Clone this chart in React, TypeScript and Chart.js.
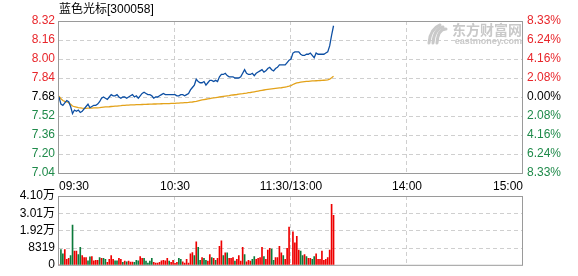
import React, { useEffect, useRef } from 'react';
import { Chart, registerables } from 'chart.js';
Chart.register(...registerables);

const title = '蓝色光标[300058]';
const watermarkCn = '东方财富网';
const watermarkEn = 'eastmoney.com';
const timeTicks = [0, 60, 120, 180, 240];
const timeLabels = ['09:30', '10:30', '11:30/13:00', '14:00', '15:00'];
const preClose = 7.68;
const priceTicks = [7.04, 7.2, 7.36, 7.52, 7.68, 7.84, 8.0, 8.16, 8.32];
const pctLabels = ['8.33%', '6.24%', '4.16%', '2.08%', '0.00%', '2.08%', '4.16%', '6.24%', '8.33%'];
const volumeTicks = [0, 10250, 20500, 30750, 41000];
const volumeLabels = ['0', '8319', '1.92万', '3.01万', '4.10万'];

const price = [
  7.68, 7.62, 7.61, 7.63, 7.65, 7.64, 7.6, 7.54, 7.57, 7.56,
  7.57, 7.55, 7.56, 7.58, 7.6, 7.62, 7.59, 7.6, 7.61, 7.61,
  7.62, 7.64, 7.67, 7.68, 7.67, 7.66, 7.68, 7.7, 7.69, 7.69,
  7.7, 7.68, 7.67, 7.68, 7.68, 7.67, 7.68, 7.69, 7.7, 7.68,
  7.69, 7.67, 7.69, 7.71, 7.72, 7.71, 7.7, 7.7, 7.69, 7.67,
  7.68, 7.68, 7.69, 7.7, 7.71, 7.7, 7.7, 7.7, 7.7, 7.7,
  7.7, 7.69, 7.69, 7.7, 7.7, 7.69, 7.7, 7.71, 7.74, 7.76,
  7.78, 7.83, 7.81, 7.8, 7.8, 7.81, 7.78, 7.8, 7.82, 7.82,
  7.81, 7.82, 7.81, 7.85, 7.87, 7.87, 7.88, 7.86, 7.85, 7.85,
  7.85, 7.84, 7.84, 7.84, 7.85, 7.88, 7.91, 7.88, 7.87, 7.87,
  7.88, 7.86, 7.88, 7.89, 7.9, 7.91, 7.89, 7.9, 7.92, 7.93,
  7.91, 7.9, 7.92, 7.93, 7.95, 7.95, 7.95, 7.95, 7.97, 7.99,
  8.0, 8.05, 8.06, 8.06, 8.06, 8.04, 8.03, 8.03, 8.04, 8.04,
  8.05, 8.03, 8.01, 8.05, 8.04, 8.04, 8.04, 8.04, 8.05, 8.06,
  8.11, 8.2, 8.28,
];

const avgPrice = [
  7.688, 7.665, 7.65, 7.643, 7.64, 7.632, 7.618, 7.604, 7.598, 7.594,
  7.59, 7.588, 7.586, 7.585, 7.585, 7.586, 7.586, 7.587, 7.588, 7.588,
  7.589, 7.59, 7.592, 7.594, 7.596, 7.597, 7.598, 7.6, 7.601, 7.603,
  7.604, 7.606, 7.607, 7.609, 7.61, 7.611, 7.612, 7.613, 7.614, 7.614,
  7.615, 7.615, 7.616, 7.617, 7.618, 7.618, 7.619, 7.62, 7.62, 7.621,
  7.621, 7.622, 7.622, 7.623, 7.624, 7.624, 7.625, 7.625, 7.626, 7.627,
  7.627, 7.628, 7.629, 7.63, 7.631, 7.632, 7.633, 7.634, 7.636, 7.638,
  7.641, 7.644, 7.648, 7.652, 7.655, 7.658, 7.661, 7.664, 7.667, 7.67,
  7.672, 7.674, 7.677, 7.68, 7.683, 7.686, 7.688, 7.69, 7.692, 7.695,
  7.697, 7.699, 7.701, 7.704, 7.706, 7.708, 7.711, 7.713, 7.716, 7.718,
  7.721, 7.724, 7.727, 7.73, 7.733, 7.736, 7.739, 7.742, 7.744, 7.746,
  7.748, 7.75, 7.752, 7.754, 7.756, 7.758, 7.761, 7.764, 7.767, 7.771,
  7.776, 7.785, 7.793, 7.798, 7.802, 7.805, 7.807, 7.809, 7.811, 7.812,
  7.814, 7.815, 7.816, 7.817, 7.818, 7.819, 7.82, 7.821, 7.822, 7.824,
  7.83, 7.842, 7.855,
];

const volume = [
  0, 9115, 6563, 9115, 3281, 3828, 5469, 23699, 8204, 8204,
  6016, 10391, 5469, 4375, 4375, 2370, 4740, 4922, 2370, 2735,
  2735, 4375, 3828, 3828, 3281, 1458, 3281, 5469, 3281, 2370,
  2370, 3828, 3281, 1458, 2188, 1823, 2188, 1641, 1641, 1458,
  2735, 2370, 4922, 3828, 3828, 2188, 1094, 2188, 3828, 1458,
  1094, 1094, 1458, 2370, 2735, 2370, 3828, 2188, 1458, 2735,
  911, 1458, 3828, 3281, 1823, 1094, 3281, 1094, 6563, 7292,
  5469, 13673, 10391, 2735, 4375, 3828, 2735, 2188, 6016, 4375,
  3828, 2735, 3828, 10938, 14219, 5469, 7110, 7110, 3828, 3828,
  4375, 2188, 3281, 5469, 2188, 10391, 6016, 1823, 2735, 2188,
  3281, 4922, 3281, 3828, 4375, 10391, 4922, 3281, 8750, 9844,
  9297, 2735, 4375, 4375, 10938, 7110, 5469, 3281, 9844, 22423,
  0, 19688, 13126, 16954, 8750, 8204, 5469, 6016, 4922, 3828,
  3828, 3281, 4922, 6563, 3281, 3281, 8204, 2735, 3281, 4375,
  8750, 36095, 29533,
];

// 1 = up (red), 0 = down (green)
const volumeUp = [
  1, 0, 0, 1, 1, 1, 0, 0, 1, 1,
  0, 0, 1, 1, 1, 0, 0, 1, 1, 1,
  1, 0, 1, 0, 0, 1, 1, 1, 1, 0,
  0, 1, 1, 0, 1, 0, 1, 1, 1, 0,
  0, 0, 1, 1, 0, 0, 0, 0, 0, 1,
  1, 1, 1, 1, 1, 1, 1, 0, 1, 1,
  1, 1, 0, 0, 1, 1, 1, 1, 1, 1,
  0, 1, 0, 0, 1, 0, 0, 1, 1, 0,
  1, 0, 1, 1, 1, 0, 1, 0, 1, 1,
  1, 0, 1, 1, 1, 1, 0, 1, 1, 1,
  0, 0, 1, 1, 1, 1, 0, 1, 1, 1,
  0, 0, 1, 1, 1, 1, 0, 1, 1, 1,
  1, 1, 1, 1, 1, 0, 0, 1, 0, 1,
  1, 0, 0, 1, 1, 1, 1, 1, 1, 1,
  1, 1, 1,
];

const RED = '#e8262b';
const GREEN = '#1f8a4a';
const BAR_RED = '#ee0000';
const BAR_GREEN = '#0b7a3a';
const FONT_FAMILY = 'Arial, "Liberation Sans", "Noto Sans CJK SC", sans-serif';
const tickFont = { family: FONT_FAMILY, size: 12 };

// dashed grid drawn from the scales' own tick values
const gridPlugin = {
  id: 'dashGrid',
  beforeDatasetsDraw(chart: any) {
    const { ctx, chartArea: a } = chart;
    const xs = chart.scales.x;
    const ys = chart.scales.y;
    ctx.save();
    ctx.strokeStyle = '#cfcfcf';
    ctx.lineWidth = 1;
    ctx.setLineDash([4, 3]);
    xs.ticks.forEach((t: any) => {
      const px = Math.round(xs.getPixelForValue(t.value)) - 0.5;
      if (px <= a.left + 1 || px >= a.right - 1) return;
      ctx.beginPath();
      ctx.moveTo(px, a.top);
      ctx.lineTo(px, a.bottom);
      ctx.stroke();
    });
    ys.ticks.forEach((t: any) => {
      const py = Math.round(ys.getPixelForValue(t.value)) + 0.5;
      if (py <= a.top + 1 || py >= a.bottom - 1) return;
      ctx.beginPath();
      ctx.moveTo(a.left, py);
      ctx.lineTo(a.right, py);
      ctx.stroke();
    });
    ctx.restore();
  },
};

const framePlugin = {
  id: 'frame',
  beforeDatasetsDraw(chart: any) {
    const { ctx, chartArea: a } = chart;
    ctx.save();
    ctx.strokeStyle = '#9a9a9a';
    ctx.lineWidth = 1;
    ctx.strokeRect(a.left - 0.5, a.top + 0.5, a.right - a.left, a.bottom - a.top);
    ctx.restore();
  },
};

const titlePlugin = {
  id: 'titleText',
  afterDraw(chart: any) {
    const { ctx } = chart;
    ctx.save();
    ctx.font = `12px ${FONT_FAMILY}`;
    ctx.fillStyle = '#000';
    ctx.textBaseline = 'middle';
    ctx.textAlign = 'left';
    ctx.fillText(title, 59, 10);
    ctx.restore();
  },
};

const watermarkPlugin = {
  id: 'watermark',
  beforeDatasetsDraw(chart: any) {
    const { ctx, chartArea: a } = chart;
    ctx.save();
    ctx.fillStyle = '#c9c9c9';
    ctx.textBaseline = 'middle';
    ctx.textAlign = 'right';
    ctx.font = `bold 14px "Noto Sans CJK SC", sans-serif`;
    ctx.fillText(watermarkCn, a.right - 1, a.top + 9);
    ctx.font = `bold 9px ${FONT_FAMILY}`;
    ctx.fillText(watermarkEn, a.right - 1, a.top + 21);
    // logo swoosh
    const lx = a.right - 97;
    const ly = a.top + 2;
    ctx.strokeStyle = '#c9c9c9';
    ctx.lineWidth = 3;
    ctx.lineCap = 'round';
    for (let k = 0; k < 3; k++) {
      ctx.beginPath();
      ctx.moveTo(lx + 3 + k * 4, ly + 20);
      ctx.quadraticCurveTo(lx + 4 + k * 4, ly + 6, lx + 14 + k * 3, ly + 2 + k * 2);
      ctx.stroke();
    }
    ctx.restore();
  },
};

const tickColor = (ctx: any) => {
  const v = ctx.tick ? ctx.tick.value : preClose;
  if (v > preClose + 1e-6) return RED;
  if (v < preClose - 1e-6) return GREEN;
  return '#000';
};

const noGrid = { display: false, drawTicks: false };
const noBorder = { display: false };

export default function App() {
  const topRef = useRef<HTMLCanvasElement>(null);
  const botRef = useRef<HTMLCanvasElement>(null);

  useEffect(() => {
    const top = new Chart(topRef.current as HTMLCanvasElement, {
      type: 'line',
      data: {
        datasets: [
          {
            data: price.map((v, i) => ({ x: i, y: v })),
            borderColor: '#0d4fa3',
            borderWidth: 1.3,
            pointRadius: 0,
            tension: 0,
            yAxisID: 'y',
          },
          {
            data: avgPrice.map((v, i) => ({ x: i, y: v })),
            borderColor: '#e3a21a',
            borderWidth: 1.3,
            pointRadius: 0,
            tension: 0,
            yAxisID: 'y',
          },
        ],
      },
      options: {
        animation: false,
        responsive: false,
        events: [],
        layout: { padding: { top: 21, left: 0, right: 0, bottom: 0 } },
        plugins: { legend: { display: false }, tooltip: { enabled: false } },
        scales: {
          x: {
            type: 'linear',
            min: 0,
            max: 240,
            afterBuildTicks: (s: any) => {
              s.ticks = timeTicks.map((v) => ({ value: v }));
            },
            afterFit: (s: any) => {
              s.height = 23;
            },
            ticks: {
              callback: (_v: any, i: number) => timeLabels[i],
              align: 'inner',
              maxRotation: 0,
              autoSkip: false,
              font: tickFont,
              color: '#000',
              padding: 6,
            },
            grid: noGrid,
            border: noBorder,
          },
          y: {
            position: 'left',
            min: 7.04,
            max: 8.32,
            afterBuildTicks: (s: any) => {
              s.ticks = priceTicks.map((v) => ({ value: v }));
            },
            afterFit: (s: any) => {
              s.width = 59;
            },
            ticks: {
              callback: (v: any) => Number(v).toFixed(2),
              color: tickColor,
              font: tickFont,
              padding: 4,
            },
            grid: noGrid,
            border: noBorder,
          },
          yR: {
            position: 'right',
            min: 7.04,
            max: 8.32,
            afterBuildTicks: (s: any) => {
              s.ticks = priceTicks.map((v) => ({ value: v }));
            },
            afterFit: (s: any) => {
              s.width = 55;
            },
            ticks: {
              callback: (_v: any, i: number) => pctLabels[i],
              color: tickColor,
              font: tickFont,
              padding: 4,
            },
            grid: noGrid,
            border: noBorder,
          },
        },
      } as any,
      plugins: [gridPlugin, framePlugin, watermarkPlugin, titlePlugin],
    });

    const bottom = new Chart(botRef.current as HTMLCanvasElement, {
      type: 'bar',
      data: {
        datasets: [
          {
            data: volume.map((v, i) => ({ x: i, y: v })),
            backgroundColor: volumeUp.map((u) => (u ? BAR_RED : BAR_GREEN)),
            barThickness: 1,
            borderWidth: 0,
          },
        ],
      },
      options: {
        animation: false,
        responsive: false,
        events: [],
        layout: { padding: { top: 16, left: 0, right: 55, bottom: 5 } },
        plugins: { legend: { display: false }, tooltip: { enabled: false } },
        scales: {
          x: {
            type: 'linear',
            offset: false,
            min: 0,
            max: 240,
            afterBuildTicks: (s: any) => {
              s.ticks = timeTicks.map((v) => ({ value: v }));
            },
            afterFit: (s: any) => {
              s.height = 0;
            },
            ticks: { display: false },
            grid: noGrid,
            border: noBorder,
          },
          y: {
            position: 'left',
            min: 0,
            max: 41000,
            afterBuildTicks: (s: any) => {
              s.ticks = volumeTicks.map((v) => ({ value: v }));
            },
            afterFit: (s: any) => {
              s.width = 59;
            },
            ticks: {
              callback: (_v: any, i: number) => volumeLabels[i],
              color: '#000',
              font: tickFont,
              padding: 4,
            },
            grid: noGrid,
            border: noBorder,
          },
        },
      } as any,
      plugins: [gridPlugin, framePlugin],
    });

    return () => {
      top.destroy();
      bottom.destroy();
    };
  }, []);

  return (
    <div style={{ position: 'fixed', left: 0, top: 0, width: 578, height: 276, background: '#fff' }}>
      <canvas ref={topRef} width={578} height={196} style={{ position: 'absolute', left: 0, top: 0, width: 578, height: 196 }} />
      <canvas ref={botRef} width={578} height={96} style={{ position: 'absolute', left: 0, top: 180, width: 578, height: 96 }} />
    </div>
  );
}
